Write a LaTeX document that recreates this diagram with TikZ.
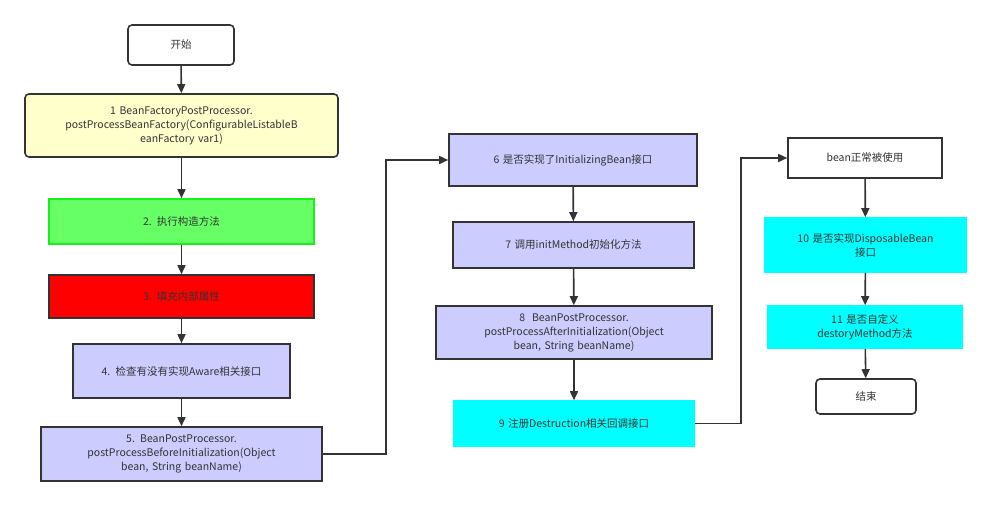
\documentclass[tikz,border=0pt]{standalone}
\usepackage{fontspec}
\setmainfont{Noto Sans CJK SC}
\usetikzlibrary{arrows.meta}
\definecolor{bd}{HTML}{333333}
\definecolor{lav}{HTML}{CCCCFF}
\definecolor{yel}{HTML}{FFFFCC}
\definecolor{grn}{HTML}{66FF66}
\definecolor{grnb}{HTML}{19F019}
\definecolor{cyn}{HTML}{00FFFF}
\begin{document}
\begin{tikzpicture}[x=1pt,y=-1pt,
 box/.style={draw=bd,line width=1.6pt,align=center,inner sep=2pt,font=\fontsize{10.5}{14}\selectfont,text=bd},
 arr/.style={draw=bd,line width=1.6pt,-{Triangle[length=9pt,width=8pt]}}]
\useasboundingbox (0,0) rectangle (990,506);
\newcommand{\bx}[7]{\node[box,#6,minimum width=#3-#1,minimum height=#4-#2,text width=#3-#1-12] (#5) at ({(#1+#3)/2},{(#2+#4)/2}) {#7};}
\bx{128}{25}{234}{65}{s}{fill=white,rounded corners=4pt}{开始}
\bx{25}{94}{338}{157}{n1}{fill=yel,rounded corners=4pt}{1 BeanFactoryPostProcessor.\\postProcessBeanFactory(ConfigurableListableB\\eanFactory var1)}
\bx{49}{199}{314}{244}{n2}{fill=grn,draw=grnb}{2. 执行构造方法}
\bx{49}{275}{314}{318}{n3}{fill=red}{3. 填充内部属性}
\bx{73}{344}{290}{398}{n4}{fill=lav}{4. 检查有没有实现Aware相关接口}
\bx{41}{427}{322}{481}{n5}{fill=lav}{5. BeanPostProcessor.\\postProcessBeforeInitialization(Object\\bean, String beanName)}
\bx{449}{134}{697}{186}{n6}{fill=lav}{6 是否实现了InitializingBean接口}
\bx{453}{222}{694}{268}{n7}{fill=lav}{7 调用initMethod初始化方法}
\bx{436}{306}{712}{359}{n8}{fill=lav}{8~ BeanPostProcessor.\\postProcessAfterInitialization(Object\\bean, String beanName)}
\bx{454}{401}{694}{446}{n9}{fill=cyn,draw=cyn}{9 注册Destruction相关回调接口}
\bx{788}{138}{942}{178}{b}{fill=white}{bean正常被使用}
\bx{765}{218}{966}{272}{n10}{fill=cyn,draw=cyn}{10 是否实现DisposableBean\\接口}
\bx{768}{306}{962}{348}{n11}{fill=cyn,draw=cyn}{11 是否自定义\\destoryMethod方法}
\bx{816}{379}{916}{414}{e}{fill=white,rounded corners=4pt}{结束}
\draw[arr] (s) -- (n1);
\draw[arr] (n1) -- (n2);
\draw[arr] (n2) -- (n3);
\draw[arr] (n3) -- (n4);
\draw[arr] (n4) -- (n5);
\draw[arr] (n5.east) -- ++(63,0) |- (n6.west);
\draw[arr] (n6) -- (n7);
\draw[arr] (n7) -- (n8);
\draw[arr] (n8) -- (n9);
\draw[arr] (n9.east) -- ++(46,0) |- (b.west);
\draw[arr] (b) -- (n10);
\draw[arr] (n10) -- (n11);
\draw[arr] (n11) -- (e);
\end{tikzpicture}
\end{document}
